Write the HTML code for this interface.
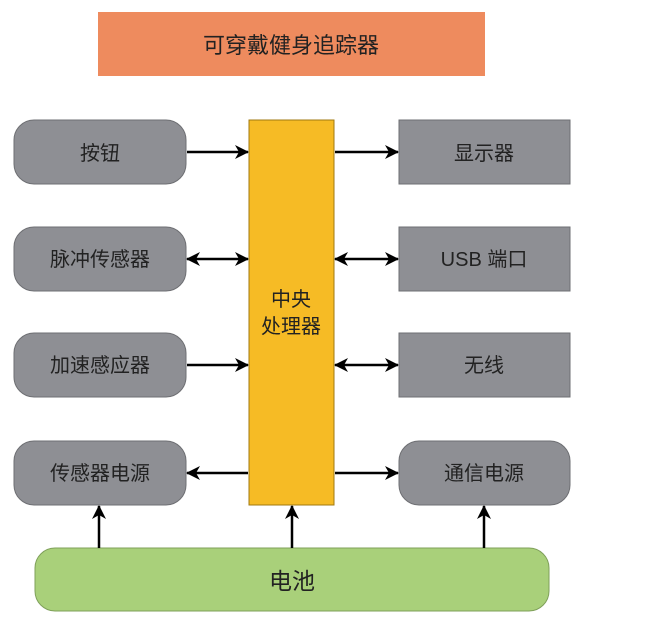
<!DOCTYPE html>
<html><head><meta charset="utf-8"><style>
body{margin:0;background:#fff;width:661px;height:617px;overflow:hidden}
</style></head><body>
<svg width="661" height="617" xmlns="http://www.w3.org/2000/svg" font-family="Liberation Sans, Noto Sans CJK SC, sans-serif">
<defs>
<marker id="a" markerWidth="14" markerHeight="14" refX="13" refY="7" orient="auto-start-reverse" markerUnits="userSpaceOnUse">
<path d="M0,0 L14,7 L0,14 L4,7 z" fill="#000"/></marker>
</defs>
<rect x="98" y="12" width="387" height="64" fill="#EE8B5E"/>
<text x="291" y="53" font-size="22" text-anchor="middle" fill="#222">可穿戴健身追踪器</text>
<g fill="#8E8F94" stroke="#6e6f73" stroke-width="1">
<rect x="14" y="120" width="172" height="64" rx="20"/>
<rect x="14" y="227" width="172" height="64" rx="20"/>
<rect x="14" y="333" width="172" height="64" rx="20"/>
<rect x="14" y="441" width="172" height="64" rx="20"/>
<rect x="399" y="120" width="171" height="64"/>
<rect x="399" y="227" width="171" height="64"/>
<rect x="399" y="333" width="171" height="64"/>
<rect x="399" y="441" width="171" height="64" rx="20"/>
</g>
<rect x="249" y="120" width="85" height="385" fill="#F6BB25" stroke="#a07a10"/>
<rect x="35" y="548" width="514" height="63" rx="20" fill="#A9D07A" stroke="#7fa05a"/>
<g font-size="20" fill="#222" text-anchor="middle">
<text x="100" y="160">按钮</text>
<text x="100" y="266">脉冲传感器</text>
<text x="100" y="372">加速感应器</text>
<text x="100" y="480">传感器电源</text>
<text x="484" y="160">显示器</text>
<text x="484" y="266">USB 端口</text>
<text x="484" y="372">无线</text>
<text x="484" y="480">通信电源</text>
<text x="291" y="306">中央</text>
<text x="291" y="333">处理器</text>
<text x="292" y="589" font-size="23">电池</text>
</g>
<g stroke="#000" stroke-width="2.5">
<line x1="187" y1="152" x2="248" y2="152" marker-end="url(#a)"/>
<line x1="187" y1="259" x2="248" y2="259" marker-end="url(#a)" marker-start="url(#a)"/>
<line x1="187" y1="365" x2="248" y2="365" marker-end="url(#a)"/>
<line x1="248" y1="473" x2="187" y2="473" marker-end="url(#a)"/>
<line x1="335" y1="152" x2="398" y2="152" marker-end="url(#a)"/>
<line x1="335" y1="259" x2="398" y2="259" marker-end="url(#a)" marker-start="url(#a)"/>
<line x1="335" y1="365" x2="398" y2="365" marker-end="url(#a)" marker-start="url(#a)"/>
<line x1="335" y1="473" x2="398" y2="473" marker-end="url(#a)"/>
<line x1="99" y1="548" x2="99" y2="506" marker-end="url(#a)"/>
<line x1="292" y1="548" x2="292" y2="506" marker-end="url(#a)"/>
<line x1="484" y1="548" x2="484" y2="506" marker-end="url(#a)"/>
</g>
</svg>
</body></html>
